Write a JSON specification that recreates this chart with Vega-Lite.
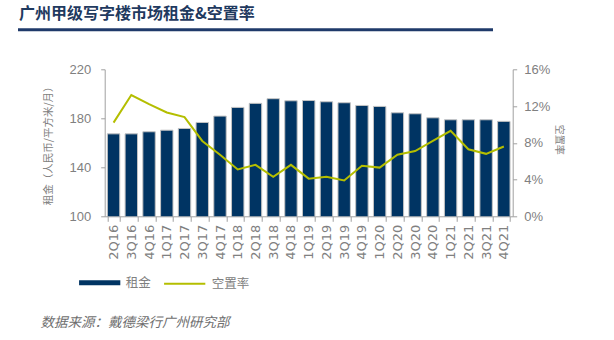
{
  "$schema": "https://vega.github.io/schema/vega-lite/v6.json",
  "width": 408,
  "height": 147,
  "autosize": "none",
  "padding": {"left": 104.7, "top": 69.3, "right": 101.3, "bottom": 123.7},
  "background": "white",
  "title": {
    "text": "广州甲级写字楼市场租金&空置率",
    "anchor": "start",
    "frame": "group",
    "dx": -85.7,
    "font": "Noto Sans CJK SC",
    "fontSize": 16,
    "fontWeight": "bold",
    "color": "#1F3A5F",
    "offset": 6
  },
  "config": {
    "view": {"stroke": null},
    "axis": {
      "grid": false,
      "domainColor": "#A0A0A0",
      "tickColor": "#A0A0A0",
      "labelColor": "#808080",
      "titleColor": "#808080",
      "labelFont": "Liberation Sans",
      "titleFont": "Noto Sans CJK SC",
      "titleFontWeight": "normal"
    },
    "legend": {
      "orient": "none",
      "direction": "horizontal",
      "title": null,
      "symbolSize": 1700,
      "labelFont": "Noto Sans CJK SC",
      "labelFontSize": 12.5,
      "labelColor": "#808080",
      "labelOffset": 5,
      "legendY": 192.5
    }
  },
  "data": {
    "values": [
      {"q": "2Q16", "rent": 167.3, "vac": 10.2},
      {"q": "3Q16", "rent": 167.3, "vac": 13.2},
      {"q": "4Q16", "rent": 169.0, "vac": 12.2},
      {"q": "1Q17", "rent": 170.3, "vac": 11.3},
      {"q": "2Q17", "rent": 171.7, "vac": 10.8},
      {"q": "3Q17", "rent": 176.6, "vac": 8.2},
      {"q": "4Q17", "rent": 181.8, "vac": 6.7},
      {"q": "1Q18", "rent": 188.9, "vac": 5.1},
      {"q": "2Q18", "rent": 192.2, "vac": 5.6},
      {"q": "3Q18", "rent": 196.0, "vac": 4.3},
      {"q": "4Q18", "rent": 194.3, "vac": 5.6},
      {"q": "1Q19", "rent": 194.5, "vac": 4.1},
      {"q": "2Q19", "rent": 193.5, "vac": 4.3},
      {"q": "3Q19", "rent": 192.7, "vac": 3.9},
      {"q": "4Q19", "rent": 190.5, "vac": 5.5},
      {"q": "1Q20", "rent": 189.7, "vac": 5.3},
      {"q": "2Q20", "rent": 184.5, "vac": 6.7},
      {"q": "3Q20", "rent": 183.7, "vac": 7.1},
      {"q": "4Q20", "rent": 180.4, "vac": 8.2},
      {"q": "1Q21", "rent": 178.8, "vac": 9.3},
      {"q": "2Q21", "rent": 178.8, "vac": 7.3},
      {"q": "3Q21", "rent": 178.8, "vac": 6.8},
      {"q": "4Q21", "rent": 177.5, "vac": 7.6}
    ]
  },
  "encoding": {
    "x": {
      "field": "q",
      "type": "ordinal",
      "sort": null,
      "scale": {"paddingInner": 0.3},
      "axis": {
        "labelAngle": -90,
        "labelFont": "DejaVu Sans",
        "labelFontSize": 13,
        "labelPadding": 3,
        "tickSize": 5,
        "tickBand": "extent",
        "title": "数据来源：戴德梁行广州研究部",
        "titleX": -64.7,
        "titleY": 106,
        "titleAlign": "left",
        "titleAngle": 0,
        "titleBaseline": "middle",
        "titleFontSize": 13.5,
        "titleFontStyle": "italic",
        "titleColor": "#6E6E6E"
      }
    }
  },
  "layer": [
    {
      "mark": {"type": "bar", "stroke": "#C4C4C4", "strokeWidth": 1, "clip": true},
      "encoding": {
        "y": {
          "field": "rent",
          "type": "quantitative",
          "scale": {"domain": [100, 220], "zero": false, "nice": false},
          "axis": {
            "values": [100, 140, 180, 220],
            "labelFontSize": 13,
            "labelPadding": 10,
            "tickSize": 4,
            "title": "租金（人民币/平方米/月）",
            "titleFontSize": 10.5,
            "titlePadding": 16
          }
        },
        "fill": {
          "datum": "租金",
          "type": "nominal",
          "scale": {"domain": ["租金"], "range": ["#003463"]},
          "legend": {
            "legendX": -26,
            "symbolType": "M-1,-0.12H1V0.12H-1Z",
            "symbolStrokeWidth": 0,
            "symbolFillColor": "#003463"
          }
        }
      }
    },
    {
      "mark": {"type": "line", "strokeWidth": 2},
      "encoding": {
        "y": {
          "field": "vac",
          "type": "quantitative",
          "scale": {"domain": [0, 16], "nice": false},
          "axis": {
            "orient": "right",
            "values": [0, 4, 8, 12, 16],
            "labelExpr": "datum.value + '%'",
            "labelFontSize": 13,
            "labelPadding": 7,
            "tickSize": 4,
            "title": "空置率",
            "titleFontSize": 10,
            "titlePadding": 4,
            "titleY": 70
          }
        },
        "stroke": {
          "datum": "空置率",
          "type": "nominal",
          "scale": {"domain": ["空置率"], "range": ["#B4BE00"]},
          "legend": {
            "legendX": 58,
            "symbolType": "stroke",
            "symbolStrokeWidth": 2
          }
        }
      }
    },
    {
      "data": {"values": [{}]},
      "mark": {"type": "rule", "stroke": "#1F3A6A", "strokeWidth": 3},
      "encoding": {
        "x": {"value": -86.7},
        "x2": {"value": 388.3},
        "y": {"value": -39.6}
      }
    }
  ],
  "resolve": {"scale": {"y": "independent"}}
}
